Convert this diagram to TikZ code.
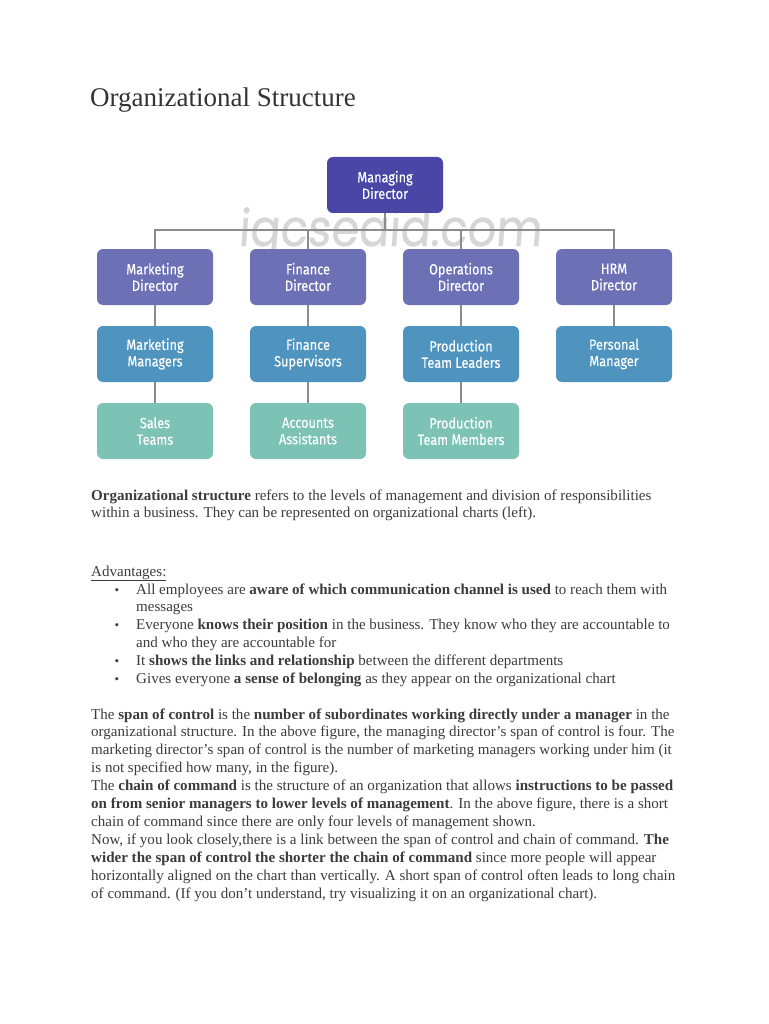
\documentclass[tikz,border=0pt]{standalone}
\usepackage{fontspec}
\setmainfont{Liberation Serif}
\newfontfamily\boxfont[FakeStretch=0.86,FakeBold=0.2]{Fira Sans}
\newfontfamily\wmfont[FakeStretch=0.88,FakeSlant=0.08,FakeBold=0.6]{Poppins}
\definecolor{mdcol}{HTML}{4A46A6}
\definecolor{dircol}{HTML}{6C70B5}
\definecolor{mgrcol}{HTML}{4E94BF}
\definecolor{teamcol}{HTML}{7CC3B5}
\definecolor{linecol}{HTML}{8C8C8C}
\definecolor{bodycol}{HTML}{3C3C3C}
\definecolor{titlecol}{HTML}{333333}
\definecolor{wmcol}{HTML}{D6D6D6}
\pgfdeclarelayer{bglayer}
\pgfdeclarelayer{wmlayer}
\pgfdeclarelayer{linelayer}
\pgfsetlayers{bglayer,wmlayer,linelayer,main}
\begin{document}
\begin{tikzpicture}[x=1pt,y=-1pt,
  orgbox/.style={rounded corners=6pt, minimum width=116pt, minimum height=56pt,
    inner sep=0pt, text=white, align=center,
    font=\boxfont\fontsize{14.8}{16.5}\selectfont},
  mdbox/.style={orgbox, fill=mdcol},
  dirbox/.style={orgbox, fill=dircol},
  mgrbox/.style={orgbox, fill=mgrcol},
  teambox/.style={orgbox, fill=teamcol},
  conn/.style={draw=linecol, line width=2pt},
  bodyline/.style={anchor=base west, inner sep=0pt, text=bodycol,
    font=\fontsize{15.05}{17}\selectfont},
  bulletmark/.style={anchor=base, inner sep=0pt, text=bodycol,
    font=\fontsize{13}{14}\selectfont}]
\begin{pgfonlayer}{bglayer}
\fill[white] (0,0) rectangle (768,1024);
\end{pgfonlayer}
\useasboundingbox (0,0) rectangle (768,1024);

% title
\node[anchor=base west, inner sep=0pt, text=titlecol,
  font=\fontsize{27}{30}\selectfont] (title) at (90,107) {Organizational Structure};

% chart
\coordinate (bus) at (385,230);
\node[mdbox] (md) at (385,185) {Managing\\Director};
\node[dirbox] (d1) at (155,277) {Marketing\\Director};
\node[dirbox] (d2) at (308,277) {Finance\\Director};
\node[dirbox] (d3) at (461,277) {Operations\\Director};
\node[dirbox] (d4) at (614,277) {HRM\\Director};
\node[mgrbox] (m1) at (155,354) {Marketing\\Managers};
\node[mgrbox] (m2) at (308,354) {Finance\\Supervisors};
\node[mgrbox] (m3) at (461,354) {Production\\Team Leaders};
\node[mgrbox] (m4) at (614,354) {Personal\\Manager};
\node[teambox] (t1) at (155,431) {Sales\\Teams};
\node[teambox] (t2) at (308,431) {Accounts\\Assistants};
\node[teambox] (t3) at (461,431) {Production\\Team Members};

\begin{pgfonlayer}{linelayer}
\draw[conn] (md.south) -- (bus);
\draw[conn] (d1.north) |- (bus);
\draw[conn] (d4.north) |- (bus);
\draw[conn] (d2.north) -- (d2.north |- bus);
\draw[conn] (d3.north) -- (d3.north |- bus);
\draw[conn] (d1) -- (m1);
\draw[conn] (d2) -- (m2);
\draw[conn] (d3) -- (m3);
\draw[conn] (d4) -- (m4);
\draw[conn] (m1) -- (t1);
\draw[conn] (m2) -- (t2);
\draw[conn] (m3) -- (t3);
\end{pgfonlayer}

% watermark
\begin{pgfonlayer}{wmlayer}
\node[anchor=base west, inner sep=0pt, text=wmcol,
  font=\wmfont\fontsize{51}{56}\selectfont] (wm) at (238,246) {igcseaid.com};
\end{pgfonlayer}

% paragraph 1
\node[bodyline] (p1a) at (91,500) {\textbf{Organizational structure} refers to the levels of management and division of responsibilities};
\node[bodyline] (p1b) at (91,517.5) {within a business. They can be represented on organizational charts (left).};

% advantages
\node[bodyline] (adv) at (91,576) {\underline{Advantages:}};
\node[bulletmark] (b1) at (117,594) {•};
\node[bodyline] (a1a) at (136,594) {All employees are \textbf{aware of which communication channel is used} to reach them with};
\node[bodyline] (a1b) at (136,611.5) {messages};
\node[bulletmark] (b2) at (117,629.5) {•};
\node[bodyline] (a2a) at (136,629.5) {Everyone \textbf{knows their position} in the business. They know who they are accountable to};
\node[bodyline] (a2b) at (136,647) {and who they are accountable for};
\node[bulletmark] (b3) at (117,665) {•};
\node[bodyline] (a3) at (136,665) {It \textbf{shows the links and relationship} between the different departments};
\node[bulletmark] (b4) at (117,683) {•};
\node[bodyline] (a4) at (136,683) {Gives everyone \textbf{a sense of belonging} as they appear on the organizational chart};

% paragraph 2
\node[bodyline] (q1) at (91,719) {The \textbf{span of control} is the \textbf{number of subordinates working directly under a manager} in the};
\node[bodyline] (q2) at (91,736.9) {organizational structure. In the above figure, the managing director’s span of control is four. The};
\node[bodyline] (q3) at (91,754.8) {marketing director’s span of control is the number of marketing managers working under him (it};
\node[bodyline] (q4) at (91,772.7) {is not specified how many, in the figure).};
\node[bodyline] (q5) at (91,790.6) {The \textbf{chain of command} is the structure of an organization that allows \textbf{instructions to be passed}};
\node[bodyline] (q6) at (91,808.5) {\textbf{on from senior managers to lower levels of management}. In the above figure, there is a short};
\node[bodyline] (q7) at (91,826.4) {chain of command since there are only four levels of management shown.};
\node[bodyline] (q8) at (91,844.3) {Now, if you look closely,there is a link between the span of control and chain of command. \textbf{The}};
\node[bodyline] (q9) at (91,862.2) {\textbf{wider the span of control the shorter the chain of command} since more people will appear};
\node[bodyline] (q10) at (91,880.1) {horizontally aligned on the chart than vertically. A short span of control often leads to long chain};
\node[bodyline] (q11) at (91,898) {of command. (If you don’t understand, try visualizing it on an organizational chart).};
\end{tikzpicture}
\end{document}
